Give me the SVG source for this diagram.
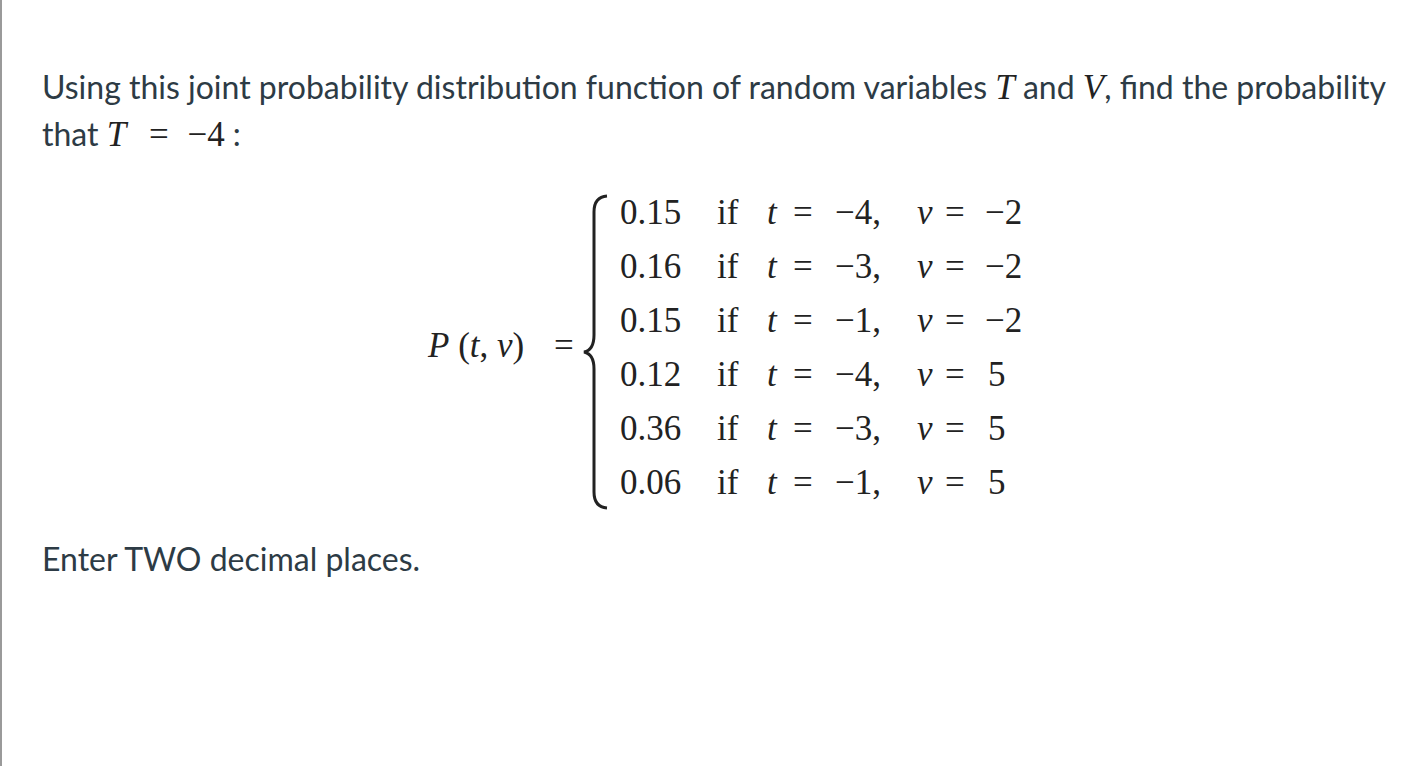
<svg xmlns="http://www.w3.org/2000/svg" width="1424" height="766" viewBox="0 0 1424 766">
<style>
.t{font-family:Lato,"Liberation Sans",sans-serif;font-size:32px;fill:#2d3b45}
.m{font-family:"Liberation Serif",serif;font-size:35px;fill:#222}
.i{font-style:italic}
</style>
<rect width="1424" height="766" fill="#fff"/>
<rect x="0" y="0" width="2" height="766" fill="#9a9a9a"/>
<text class="t" x="42" y="99">Using this joint probability distribution function of random variables <tspan class="m i">T</tspan>  and <tspan class="m i">V</tspan>, find the probability</text>
<text class="t" x="42" y="146">that <tspan class="m i">T</tspan><tspan class="m"> <tspan dx="14">=</tspan> <tspan dx="10">−4</tspan></tspan> :</text>
<g class="m">
<text x="428" y="357"><tspan class="i">P</tspan> (<tspan class="i">t</tspan>, <tspan class="i">v</tspan>)</text><text x="554" y="357">=</text>
</g>
<path d="M607,196 Q594,197 594,212 L594,335 Q594,350 584,352 Q594,354 594,369 L594,492 Q594,507 607,508" fill="none" stroke="#222" stroke-width="3"/>
<g class="m">
<text x="620" y="224">0.15</text><text x="717" y="224">if</text><text class="i" x="767" y="224">t</text><text x="793" y="224">=</text><text x="835" y="224">−4,</text><text class="i" x="917" y="224">v</text><text x="945" y="224">=</text><text x="985" y="224">−2</text>
<text x="620" y="278">0.16</text><text x="717" y="278">if</text><text class="i" x="767" y="278">t</text><text x="793" y="278">=</text><text x="835" y="278">−3,</text><text class="i" x="917" y="278">v</text><text x="945" y="278">=</text><text x="985" y="278">−2</text>
<text x="620" y="332">0.15</text><text x="717" y="332">if</text><text class="i" x="767" y="332">t</text><text x="793" y="332">=</text><text x="835" y="332">−1,</text><text class="i" x="917" y="332">v</text><text x="945" y="332">=</text><text x="985" y="332">−2</text>
<text x="620" y="386">0.12</text><text x="717" y="386">if</text><text class="i" x="767" y="386">t</text><text x="793" y="386">=</text><text x="835" y="386">−4,</text><text class="i" x="917" y="386">v</text><text x="945" y="386">=</text><text x="988" y="386">5</text>
<text x="620" y="440">0.36</text><text x="717" y="440">if</text><text class="i" x="767" y="440">t</text><text x="793" y="440">=</text><text x="835" y="440">−3,</text><text class="i" x="917" y="440">v</text><text x="945" y="440">=</text><text x="988" y="440">5</text>
<text x="620" y="494">0.06</text><text x="717" y="494">if</text><text class="i" x="767" y="494">t</text><text x="793" y="494">=</text><text x="835" y="494">−1,</text><text class="i" x="917" y="494">v</text><text x="945" y="494">=</text><text x="988" y="494">5</text>
</g>
<text class="t" x="42" y="571">Enter TWO decimal places.</text>
</svg>
